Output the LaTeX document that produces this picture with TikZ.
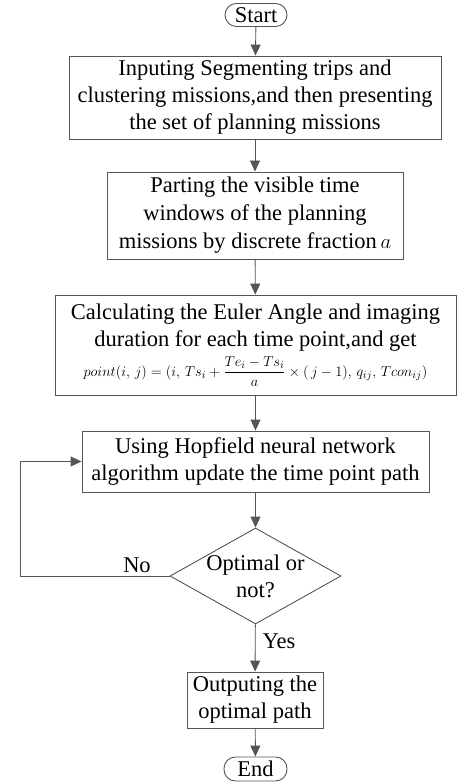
\documentclass[tikz,border=0pt]{standalone}
\usepackage{amsmath}
\usepackage{fontspec}
\setmainfont{Liberation Serif}
\usepackage{tikz}
\usetikzlibrary{shapes.geometric, arrows.meta, positioning}
\definecolor{edgegray}{RGB}{85,85,85}

\begin{document}
\begin{tikzpicture}[x=1pt, y=-1pt,
    box/.style={draw=edgegray, line width=0.9pt, align=center, inner sep=0pt,
      font=\fontsize{22.5}{27}\selectfont},
    term/.style={box, rounded corners=11.5pt},
    flow/.style={draw=edgegray, line width=0.9pt, -{Triangle[length=11pt, width=10pt]}}]
  \useasboundingbox (0,0) rectangle (474,783);
  % terminals
  \node[term, minimum width=62, minimum height=23] (start) at (256,15) {Start};
  \node[term, minimum width=63, minimum height=24] (finish) at (255.5,769) {End};
  % process boxes
  \node[box, minimum width=372, minimum height=83] (inp) at (255,97.5)
    {Inputing Segmenting trips and\\clustering missions,and then presenting\\the set of planning missions};
  \node[box, minimum width=296, minimum height=87, font=\fontsize{22.5}{28}\selectfont] (part) at (255,215.5)
    {Parting the visible time\\windows of the planning\\missions by discrete fraction\,$a$};
  \node[box, minimum width=401, minimum height=100] (euler) at (255.5,345)
    {Calculating the Euler Angle and imaging\\duration for each time point,and get\\[3pt]
     {\fontsize{15}{17}\selectfont $point(i,\,j)=(i,\,Ts_i+\dfrac{Te_i-Ts_i}{a}\times(\,j-1),\,q_{ij},\,Tcon_{ij})$}};
  \node[box, minimum width=347, minimum height=61] (hop) at (255.5,461.5)
    {Using Hopfield neural network\\algorithm update the time point path};
  \node[draw=edgegray, line width=0.9pt, diamond, minimum width=171, minimum height=96,
    inner sep=0pt] (dec) at (255.5,576) {};
  \node[font=\fontsize{22.5}{27}\selectfont, align=center] (dectext) at (dec) {Optimal or\\not?};
  \node[box, minimum width=136, minimum height=56] (outp) at (255,700)
    {Outputing the\\optimal path};
  % connectors
  \foreach \a/\b in {start/inp, inp/part, part/euler, euler/hop, hop/dec, dec/outp, outp/finish}
    \draw[flow] (\a) -- (\b);
  \coordinate (loopcorner) at (20,576);
  \draw[flow] (dec.west) -- (loopcorner) |- (hop.west);
  \node[font=\fontsize{22.5}{24}\selectfont] (nolabel) at (137,565) {No};
  \node[font=\fontsize{22.5}{24}\selectfont] (yeslabel) at (279,641) {Yes};
\end{tikzpicture}
\end{document}
